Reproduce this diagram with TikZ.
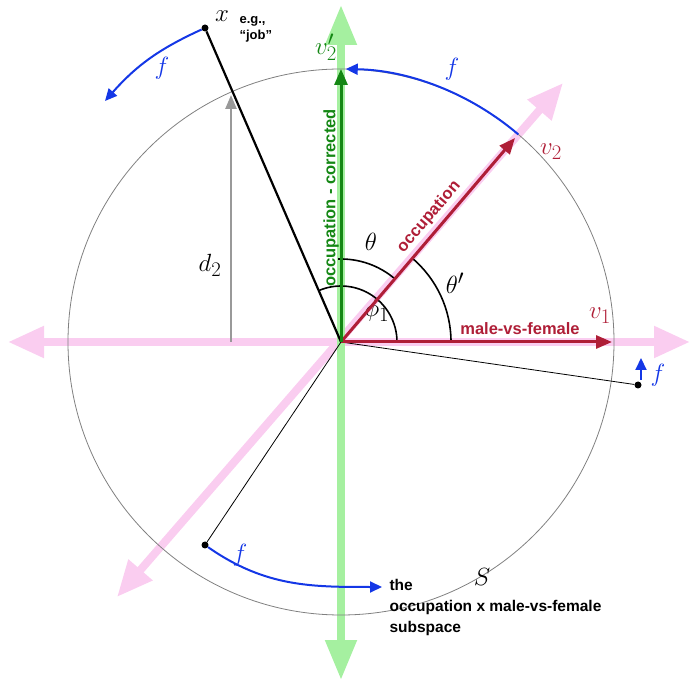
\documentclass[tikz,border=0pt]{standalone}
\usepackage{fontspec}
\setsansfont{Liberation Sans}
\usetikzlibrary{arrows.meta,calc}
\definecolor{pinkax}{RGB}{250,205,240}
\definecolor{greenax}{RGB}{165,240,160}
\definecolor{redv}{RGB}{175,30,55}
\definecolor{greenv}{RGB}{20,135,20}
\definecolor{bluef}{RGB}{20,55,230}
\tikzset{
 axis/.style={line width=8pt,-{Triangle[length=36pt,width=30pt]}},
 vec/.style={line width=3pt,-{Triangle[length=16pt,width=13pt]}},
 bl/.style={bluef,line width=2pt,-{Triangle[length=12pt,width=11pt]}},
 lbl/.style={font=\sffamily\bfseries\fontsize{16.5}{18}\selectfont,inner sep=1pt},
 mth/.style={font=\Huge,inner sep=1pt},
 dot/.style={circle,fill=black,inner sep=0pt,minimum size=7pt},
}
\begin{document}
\begin{tikzpicture}[x=1pt,y=1pt]
\useasboundingbox (0,0) rectangle (696,683);
\coordinate (C) at (341,341);
% light axes
\draw[axis,pinkax,{Triangle[length=36pt,width=30pt]}-{Triangle[length=36pt,width=30pt]}] (8,341) -- (690,341);
\draw[axis,pinkax,{Triangle[length=36pt,width=30pt]}-{Triangle[length=36pt,width=30pt]}] (117,86) -- (563,600);
\draw[axis,greenax,{Triangle[length=40pt,width=30pt]}-{Triangle[length=40pt,width=30pt]}] (341,3) -- (341,678);
% circle
\draw[gray,line width=0.8pt] (C) circle (273);
% points
\node[dot] (x) at (205,655) {};
\node[dot] (p3) at (638,298) {};
\node[dot] (p4) at (205,138) {};
\draw[line width=2.2pt] (x) -- (C);
\draw[line width=0.8pt] (p3) -- (C);
\draw[line width=0.8pt] (p4) -- (C);
% gray d2
\coordinate (g0) at (231,341);
\coordinate (g1) at (231,588);
\draw[gray!80,line width=2.5pt,-{Triangle[length=14pt,width=11pt]}] (g0) -- (g1);
\node[mth] (d2) at (210,418) {$d_2$};
% angle arcs
\draw[line width=1.6pt] (397,341) arc (0:113.4:56);
\draw[line width=1.6pt] ($(C)+(49.5:83)$) arc (49.5:92:83);
\draw[line width=1.6pt] (451,341) arc (0:49.5:110);
\node[mth] (th) at (371,441) {$\theta$};
\node[mth] (thp) at (455,400) {$\theta'$};
\node[mth] (ph) at (377,373) {$\phi_1$};
% vectors
\coordinate (v1t) at (612,341);
\coordinate (v2t) at (515,545);
\coordinate (v2pt) at (341,614);
\draw[vec,redv] (C) -- (v1t);
\draw[vec,redv] (C) -- (v2t);
\draw[vec,greenv] (C) -- (v2pt);
\node[lbl,redv] (mvf) at (520,354) {male-vs-female};
\node[lbl,redv,rotate=49.5] (occ) at (429,466) {occupation};
\node[lbl,greenv,rotate=90] (occc) at (331,485) {occupation - corrected};
\node[mth,redv] (v1l) at (600,367) {$v_1$};
\node[mth,redv] (v2l) at (551,531) {$v_2$};
\node[mth,greenv] (v2pl) at (326,636) {$v_2'$};
% blue f arrows
\draw[bl] ($(C)+(49.5:273)$) arc (49.5:89:273);
\node[mth,bluef] (f1) at (452,614) {$f$};
\draw[bl] (x) to[bend right=12] (105,582);
\node[mth,bluef] (f2) at (162,615) {$f$};
\draw[bl] (641,303) -- (641,325);
\node[mth,bluef] (f3) at (658,308) {$f$};
\draw[bl] (p4) to[out=-35,in=180] (382,96);
\node[mth,bluef] (f4) at (240,128) {$f$};
% labels
\node[mth] (xl) at (222,667) {$x$};
\node[align=left,anchor=west,font=\sffamily\bfseries\fontsize{13}{16}\selectfont] (eg) at (236,654) {e.g.,\\“job”};
\node[mth] (S) at (482,106) {$S$};
\node[align=left,anchor=west,font=\sffamily\bfseries\fontsize{15.5}{21}\selectfont] (sub) at (386,76) {the\\occupation x male-vs-female\\subspace};
\end{tikzpicture}
\end{document}
